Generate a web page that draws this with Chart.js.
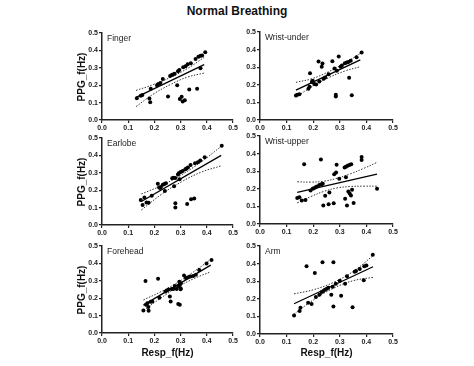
<!DOCTYPE html>
<html><head><meta charset="utf-8">
<script src="https://cdn.jsdelivr.net/npm/chart.js@4.4.1/dist/chart.umd.min.js"></script>
<style>
body{margin:0;background:#fff;width:474px;height:366px;position:relative;overflow:hidden;font-family:"Liberation Sans",Arial,sans-serif}
canvas{position:absolute}
.t{position:absolute;white-space:nowrap;color:#111;line-height:1}
.pn{font-size:8.5px;color:#222}
.yl{font-size:10px;font-weight:bold;transform:translate(-50%,-50%) rotate(-90deg)}
.xl{font-size:10px;font-weight:bold;transform:translate(-50%,-50%)}
</style></head><body>
<script>
// ---- data ----
const tickValues = [0, 0.1, 0.2, 0.3, 0.4, 0.5];
const panelNames = ['Finger','Wrist-under','Earlobe','Wrist-upper','Forehead','Arm'];
const yAxisTitle = 'PPG_f(Hz)';
const xAxisTitle = 'Resp_f(Hz)';
const chartTitle = 'Normal Breathing';

const fingerX = [0.133,0.148,0.154,0.181,0.184,0.186,0.21,0.216,0.223,0.232,0.252,0.26,0.266,0.271,0.277,0.287,0.29,0.295,0.297,0.304,0.308,0.316,0.31,0.319,0.327,0.333,0.339,0.357,0.363,0.368,0.376,0.382,0.376,0.394];
const fingerY = [0.125,0.139,0.143,0.124,0.102,0.18,0.2,0.207,0.212,0.235,0.135,0.253,0.259,0.262,0.266,0.199,0.28,0.288,0.12,0.133,0.106,0.114,0.303,0.309,0.32,0.176,0.326,0.351,0.18,0.363,0.369,0.371,0.297,0.39];
const fingerFitX = [0.13, 0.39];
const fingerFitY = [0.13, 0.318];
const fingerBandX = [0.13, 0.195, 0.26, 0.325, 0.39];
const fingerBandUp = [0.17, 0.203, 0.244, 0.295, 0.36];
const fingerBandLo = [0.077, 0.148, 0.203, 0.246, 0.27];

const wristUnderX = [0.135,0.14,0.148,0.182,0.186,0.188,0.195,0.198,0.204,0.211,0.22,0.223,0.232,0.235,0.239,0.245,0.258,0.272,0.28,0.285,0.285,0.289,0.296,0.303,0.308,0.319,0.326,0.332,0.341,0.335,0.345,0.363,0.382];
const wristUnderY = [0.139,0.143,0.147,0.177,0.189,0.265,0.216,0.223,0.204,0.202,0.332,0.219,0.302,0.321,0.235,0.242,0.26,0.334,0.292,0.143,0.134,0.28,0.361,0.303,0.309,0.323,0.326,0.33,0.336,0.24,0.141,0.357,0.384];
const wristUnderFitX = [0.135, 0.377];
const wristUnderFitY = [0.17, 0.342];
const wristUnderBandX = [0.135, 0.196, 0.256, 0.317, 0.377];
const wristUnderBandUp = [0.214, 0.235, 0.273, 0.322, 0.378];
const wristUnderBandLo = [0.13, 0.19, 0.239, 0.277, 0.303];

const earlobeX = [0.148,0.155,0.162,0.17,0.178,0.19,0.213,0.218,0.222,0.225,0.232,0.238,0.244,0.24,0.268,0.273,0.28,0.275,0.28,0.28,0.29,0.293,0.3,0.308,0.296,0.318,0.322,0.328,0.325,0.338,0.34,0.352,0.355,0.366,0.375,0.392,0.457];
const earlobeY = [0.143,0.115,0.158,0.13,0.128,0.168,0.237,0.215,0.212,0.218,0.232,0.236,0.24,0.195,0.268,0.272,0.27,0.222,0.125,0.1,0.29,0.298,0.305,0.31,0.263,0.32,0.325,0.33,0.12,0.345,0.148,0.153,0.355,0.36,0.37,0.39,0.455];
const earlobeFitX = [0.15, 0.455];
const earlobeFitY = [0.135, 0.40];
const earlobeBandX = [0.15, 0.226, 0.303, 0.379, 0.455];
const earlobeBandUp = [0.178, 0.226, 0.288, 0.363, 0.452];
const earlobeBandLo = [0.086, 0.175, 0.248, 0.304, 0.34];

const wristUpperX = [0.14,0.148,0.157,0.166,0.171,0.19,0.198,0.203,0.209,0.214,0.229,0.223,0.231,0.236,0.238,0.245,0.258,0.261,0.277,0.279,0.286,0.288,0.298,0.318,0.323,0.329,0.336,0.32,0.323,0.327,0.332,0.337,0.342,0.346,0.343,0.352,0.382,0.382,0.44];
const wristUpperY = [0.148,0.152,0.133,0.34,0.137,0.19,0.2,0.203,0.209,0.213,0.366,0.222,0.226,0.228,0.105,0.16,0.112,0.179,0.118,0.283,0.293,0.337,0.257,0.321,0.325,0.331,0.335,0.144,0.266,0.105,0.184,0.173,0.162,0.195,0.34,0.12,0.38,0.363,0.2];
const wristUpperFitX = [0.14, 0.44];
const wristUpperFitY = [0.18, 0.283];
const wristUpperBandX = [0.14, 0.19, 0.24, 0.29, 0.34, 0.39, 0.44];
const wristUpperBandUp = [0.24, 0.238, 0.243, 0.26, 0.285, 0.316, 0.35];
const wristUpperBandLo = [0.12, 0.155, 0.185, 0.205, 0.213, 0.215, 0.215];

const foreheadX = [0.158,0.166,0.168,0.173,0.178,0.177,0.186,0.192,0.214,0.219,0.242,0.248,0.254,0.259,0.262,0.266,0.272,0.278,0.285,0.292,0.297,0.301,0.295,0.3,0.3,0.291,0.297,0.313,0.32,0.329,0.338,0.348,0.358,0.371,0.399,0.418];
const foreheadY = [0.13,0.299,0.162,0.171,0.128,0.149,0.179,0.181,0.312,0.202,0.238,0.244,0.25,0.21,0.181,0.253,0.253,0.27,0.253,0.27,0.278,0.286,0.295,0.257,0.251,0.166,0.162,0.331,0.316,0.32,0.324,0.328,0.335,0.362,0.4,0.419];
const foreheadFitX = [0.158, 0.415];
const foreheadFitY = [0.16, 0.39];
const foreheadBandX = [0.158, 0.222, 0.286, 0.35, 0.415];
const foreheadBandUp = [0.19, 0.235, 0.288, 0.352, 0.423];
const foreheadBandLo = [0.13, 0.198, 0.262, 0.312, 0.352];

const armX = [0.128,0.149,0.152,0.175,0.181,0.194,0.206,0.21,0.223,0.235,0.232,0.238,0.244,0.251,0.257,0.268,0.273,0.276,0.276,0.285,0.3,0.305,0.32,0.327,0.348,0.356,0.361,0.375,0.392,0.4,0.39,0.424];
const armY = [0.105,0.13,0.149,0.385,0.177,0.171,0.347,0.21,0.223,0.408,0.238,0.244,0.251,0.257,0.263,0.223,0.269,0.408,0.156,0.286,0.303,0.217,0.286,0.328,0.152,0.354,0.358,0.37,0.385,0.389,0.305,0.45];
const armFitX = [0.128, 0.425];
const armFitY = [0.172, 0.382];
const armBandX = [0.128, 0.202, 0.276, 0.351, 0.425];
const armBandUp = [0.228, 0.252, 0.293, 0.356, 0.445];
const armBandLo = [0.113, 0.195, 0.26, 0.303, 0.322];

const panelData = [
  [fingerX, fingerY, fingerFitX, fingerFitY, fingerBandX, fingerBandUp, fingerBandLo],
  [wristUnderX, wristUnderY, wristUnderFitX, wristUnderFitY, wristUnderBandX, wristUnderBandUp, wristUnderBandLo],
  [earlobeX, earlobeY, earlobeFitX, earlobeFitY, earlobeBandX, earlobeBandUp, earlobeBandLo],
  [wristUpperX, wristUpperY, wristUpperFitX, wristUpperFitY, wristUpperBandX, wristUpperBandUp, wristUpperBandLo],
  [foreheadX, foreheadY, foreheadFitX, foreheadFitY, foreheadBandX, foreheadBandUp, foreheadBandLo],
  [armX, armY, armFitX, armFitY, armBandX, armBandUp, armBandLo]
];

// ---- layout (plot-area boxes in page pixels) ----
const layout = [
  {L:102, T:33,  W:131, H:87},
  {L:260, T:32,  W:133, H:88},
  {L:102, T:138, W:131, H:87},
  {L:260, T:136, W:133, H:88},
  {L:102, T:246, W:131, H:87},
  {L:260, T:246, W:133, H:88}
];
const YW = 32, XH = 18, PT = 6, PR = 12;
const FONT = '"Liberation Sans", Arial, sans-serif';

function addText(txt, cls, style){
  const d = document.createElement('div');
  d.className = 't ' + cls;
  d.textContent = txt;
  Object.assign(d.style, style);
  document.body.appendChild(d);
}
const pts = (xs, ys) => xs.map((v,i)=>({x:v, y:ys[i]}));

addText(chartTitle, '', {left:'0px', width:'474px', textAlign:'center', top:'5px', fontSize:'12px', fontWeight:'bold'});

panelData.forEach((pd, k) => {
  const [xs, ys, fx, fy, bx, bu, bl] = pd;
  const g = layout[k];
  const cv = document.createElement('canvas');
  cv.width = YW + g.W + PR; cv.height = PT + g.H + XH;
  cv.style.left = (g.L - YW) + 'px';
  cv.style.top = (g.T - PT) + 'px';
  document.body.appendChild(cv);

  const axisCommon = (fitFn) => ({
    type:'linear', min:0, max:0.5,
    afterBuildTicks: s => { s.ticks = tickValues.map(v=>({value:v})); },
    ticks:{ callback: v => Number(v).toFixed(1), font:{size:7, weight:'bold', family:FONT}, color:'#222', padding:1, maxRotation:0, autoSkip:false },
    grid:{ drawOnChartArea:false, drawTicks:true, tickLength:3, color:'#222', lineWidth:1.2 },
    border:{ display:true, color:'#222', width:1.5 },
    afterFit: fitFn
  });

  new Chart(cv, {
    type:'scatter',
    data:{ datasets:[
      { data: pts(xs, ys), pointRadius:2, pointBackgroundColor:'#000', pointBorderColor:'#000', pointBorderWidth:0, showLine:false },
      { data: pts(fx, fy), showLine:true, borderColor:'#000', borderWidth:1.3, pointRadius:0 },
      { data: pts(bx, bu), showLine:true, borderColor:'#333', borderWidth:1, borderDash:[1.5,1.5], pointRadius:0, tension:0.4 },
      { data: pts(bx, bl), showLine:true, borderColor:'#333', borderWidth:1, borderDash:[1.5,1.5], pointRadius:0, tension:0.4 }
    ]},
    options:{
      responsive:false, animation:false, devicePixelRatio:1,
      layout:{ padding:{ top:PT, right:PR, left:0, bottom:0 } },
      plugins:{ legend:{display:false}, tooltip:{enabled:false}, title:{display:false} },
      scales:{
        x: axisCommon(s => { s.height = XH; }),
        y: axisCommon(s => { s.width = YW; })
      }
    }
  });

  addText(panelNames[k], 'pn', {left:(g.L + 5) + 'px', top:(g.T + 1) + 'px'});
  if (k % 2 === 0) addText(yAxisTitle, 'yl', {left:'82px', top:(g.T + g.H/2) + 'px'});
  if (k >= 4) addText(xAxisTitle, 'xl', {left:(g.L + g.W/2) + 'px', top:'352.5px'});
});
</script>
</body></html>
